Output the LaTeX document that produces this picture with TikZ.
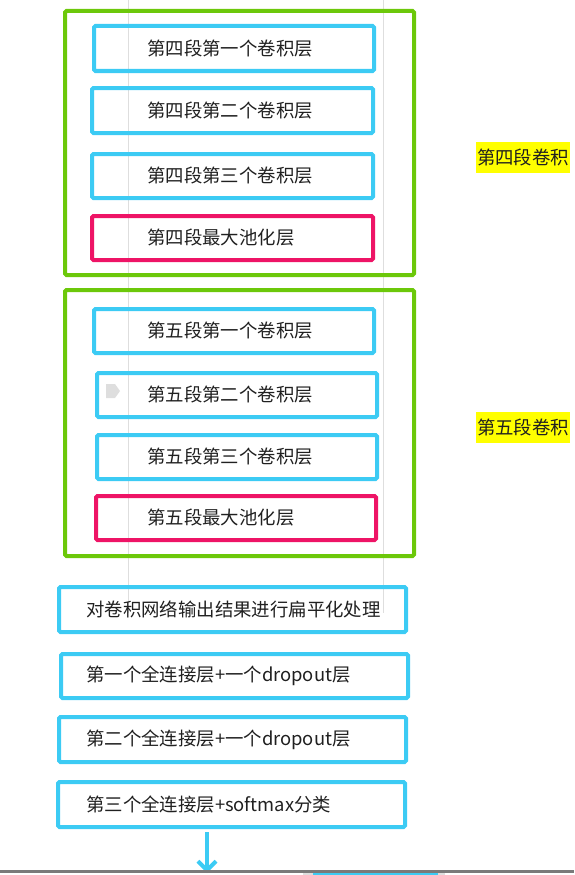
\documentclass[tikz,border=0pt]{standalone}
\usepackage{fontspec}
\setmainfont{Noto Sans CJK SC}
\usetikzlibrary{arrows.meta,calc}
\definecolor{skyb}{HTML}{3CCBF4}
\definecolor{grn}{HTML}{6CC80A}
\definecolor{pnk}{HTML}{EE1466}
\definecolor{yel}{HTML}{FFFF00}
\definecolor{txtc}{HTML}{202020}
\definecolor{guide}{HTML}{DEDEDE}
\tikzset{
  frame/.style={draw=grn, line width=4pt, rounded corners=1.5pt, inner sep=0pt, anchor=north west},
  layer/.style={draw=skyb, line width=4pt, rounded corners=1.5pt, inner sep=0pt, anchor=north west},
  pool/.style={layer, draw=pnk},
  txt/.style={anchor=west, inner sep=0pt, font=\fontsize{18.4}{20}\selectfont, text=txtc},
  tag/.style={fill=yel, inner sep=0pt, minimum width=94pt, minimum height=31pt, font=\fontsize{18.4}{20}\selectfont, text=txtc},
  flow/.style={draw=skyb, line width=4pt, -{Straight Barb[length=9pt,width=18pt,line width=4pt]}},
}
\begin{document}
\begin{tikzpicture}[x=1pt,y=-1pt]
\useasboundingbox (0,0) rectangle (574,875);
% guide lines
\draw[guide, line width=1pt] (128.5,0) -- (128.5,613);
\draw[guide, line width=1pt] (383.5,0) -- (383.5,613);
% frames
\node[frame, minimum width=349pt, minimum height=264pt] (g1) at (63,9) {};
\node[frame, minimum width=349pt, minimum height=266pt] (g2) at (63,288) {};
% stage 4
\node[layer, minimum width=280pt, minimum height=45pt] (b41) at (92,24) {};
\node[layer, minimum width=281pt, minimum height=45pt] (b42) at (90,86) {};
\node[layer, minimum width=281pt, minimum height=44pt] (b43) at (90,152) {};
\node[pool,  minimum width=281pt, minimum height=44pt] (r4) at (90,214) {};
% stage 5
\node[layer, minimum width=280pt, minimum height=44pt] (b51) at (92,307) {};
\node[layer, minimum width=280pt, minimum height=44pt] (b52) at (95,371) {};
\node[layer, minimum width=280pt, minimum height=44pt] (b53) at (95,433) {};
\node[pool,  minimum width=280pt, minimum height=44pt] (r5) at (94,494) {};
% dense part
\node[layer, minimum width=347pt, minimum height=45pt] (fl) at (57,585) {};
\node[layer, minimum width=347pt, minimum height=44pt] (fc1) at (59,652) {};
\node[layer, minimum width=347pt, minimum height=45pt] (fc2) at (57,715) {};
\node[layer, minimum width=347pt, minimum height=45pt] (fc3) at (56,780) {};
% text anchors
\coordinate (tx) at (147,0);
\coordinate (tf) at (86,0);
\node[txt] (t41) at (b41.west -| tx) {第四段第一个卷积层};
\node[txt] (t42) at (b42.west -| tx) {第四段第二个卷积层};
\node[txt] (t43) at (b43.west -| tx) {第四段第三个卷积层};
\node[txt] (t44) at (r4.west -| tx) {第四段最大池化层};
\node[txt] (t51) at (b51.west -| tx) {第五段第一个卷积层};
\node[txt] (t52) at (b52.west -| tx) {第五段第二个卷积层};
\node[txt] (t53) at (b53.west -| tx) {第五段第三个卷积层};
\node[txt] (t54) at (r5.west -| tx) {第五段最大池化层};
\node[txt] (tfl) at (fl.west -| tf) {对卷积网络输出结果进行扁平化处理};
\node[txt] (tc1) at (fc1.west -| tf) {第一个全连接层+一个dropout层};
\node[txt] (tc2) at (fc2.west -| tf) {第二个全连接层+一个dropout层};
\node[txt] (tc3) at (fc3.west -| tf) {第三个全连接层+softmax分类};
% labels
\node[tag] (l4) at (523,157.5) {第四段卷积};
\node[tag] (l5) at (523,427.5) {第五段卷积};
% small tag icon
\fill[guide] (106,384) -- (115,384) -- (120,391) -- (115,398) -- (106,398) -- cycle;
% output arrow
\coordinate (ax) at (207,873);
\draw[flow, shorten <=3pt] (fc3.south -| ax) -- (ax);
% bottom edge
\fill[black!52] (0,869.5) rectangle (574,872.5);
\fill[guide] (303,872.5) rectangle (445,875);
\fill[skyb] (313,872.5) rectangle (438,875);
\end{tikzpicture}
\end{document}
